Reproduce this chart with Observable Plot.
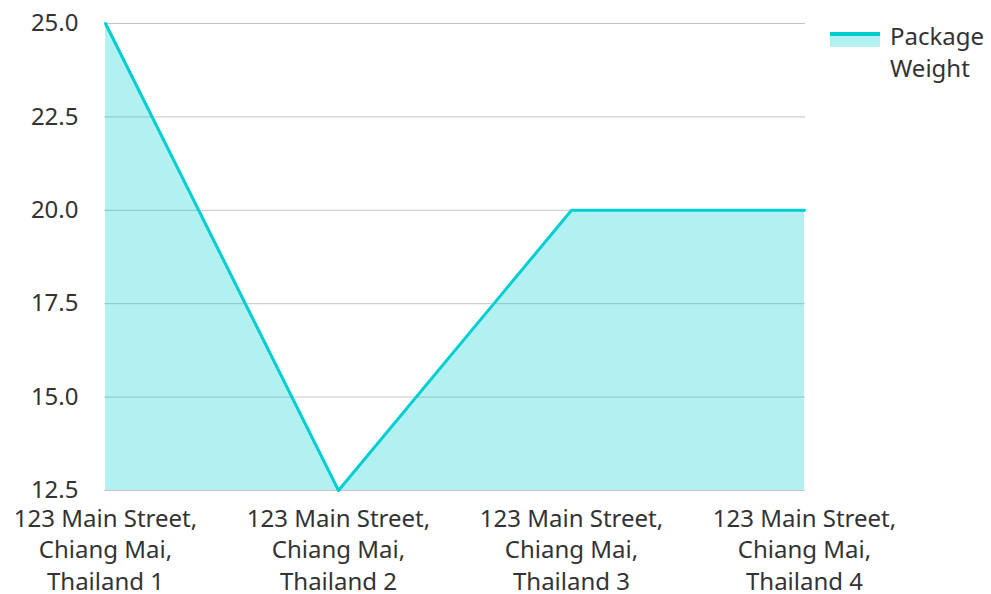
<!DOCTYPE html>
<html>
<head>
<meta charset="utf-8">
<script src="https://cdn.jsdelivr.net/npm/d3@7"></script>
<script src="https://cdn.jsdelivr.net/npm/@observablehq/plot@0.6"></script>
<style>
  html, body { margin: 0; padding: 0; background: #fff; }
  #wrap { position: relative; width: 991px; height: 594px; font-family: "Noto Sans", sans-serif; }
  #legend { position: absolute; left: 830px; top: 20px; display: flex; align-items: flex-start; font-size: 24px; color: #333; line-height: 32px; }
  #legend .sw { width: 50px; height: 15px; margin-top: 12px; margin-right: 10px; background: rgba(0,206,209,0.3); border-top: 4px solid #00CED1; box-sizing: border-box; }
</style>
</head>
<body>
<div id="wrap">
  <div id="chart"></div>
  <div id="legend"><div class="sw"></div><div>Package<br>Weight</div></div>
</div>
<script>
const categories = [
  "123 Main Street, Chiang Mai, Thailand 1",
  "123 Main Street, Chiang Mai, Thailand 2",
  "123 Main Street, Chiang Mai, Thailand 3",
  "123 Main Street, Chiang Mai, Thailand 4"
];
const weights = [25, 12.5, 20, 20];
const yTicks = [12.5, 15, 17.5, 20, 22.5, 25];

const data = categories.map((c, i) => ({category: c, weight: weights[i]}));
const color = "#00CED1";

const chart = Plot.plot({
  width: 991,
  height: 594,
  marginLeft: 104,
  marginRight: 186,
  marginTop: 23,
  marginBottom: 104,
  style: {fontFamily: "Noto Sans, sans-serif", fontSize: "24px", color: "#333", background: "#fff", overflow: "visible"},
  x: {type: "point", domain: categories, padding: 0, label: null},
  y: {domain: [12.5, 25], label: null},
  marks: [
    Plot.gridY(yTicks, {stroke: "#c4c4c4", strokeOpacity: 1, strokeWidth: 1}),
    Plot.areaY(data, {x: "category", y1: 12.5, y2: "weight", fill: color, fillOpacity: 0.3}),
    Plot.lineY(data, {x: "category", y: "weight", stroke: color, strokeWidth: 3}),
    Plot.axisY(yTicks, {tickSize: 0, tickPadding: 26, tickFormat: d => d.toFixed(1), fill: "#333", fontSize: 24, label: null}),
    Plot.axisX({tickSize: 0, tickPadding: 14, tickFormat: d => d.replace(/, /g, ",\n"), lineHeight: 1.31, fill: "#333", fontSize: 24, label: null})
  ]
});
document.getElementById("chart").appendChild(chart);
</script>
</body>
</html>
